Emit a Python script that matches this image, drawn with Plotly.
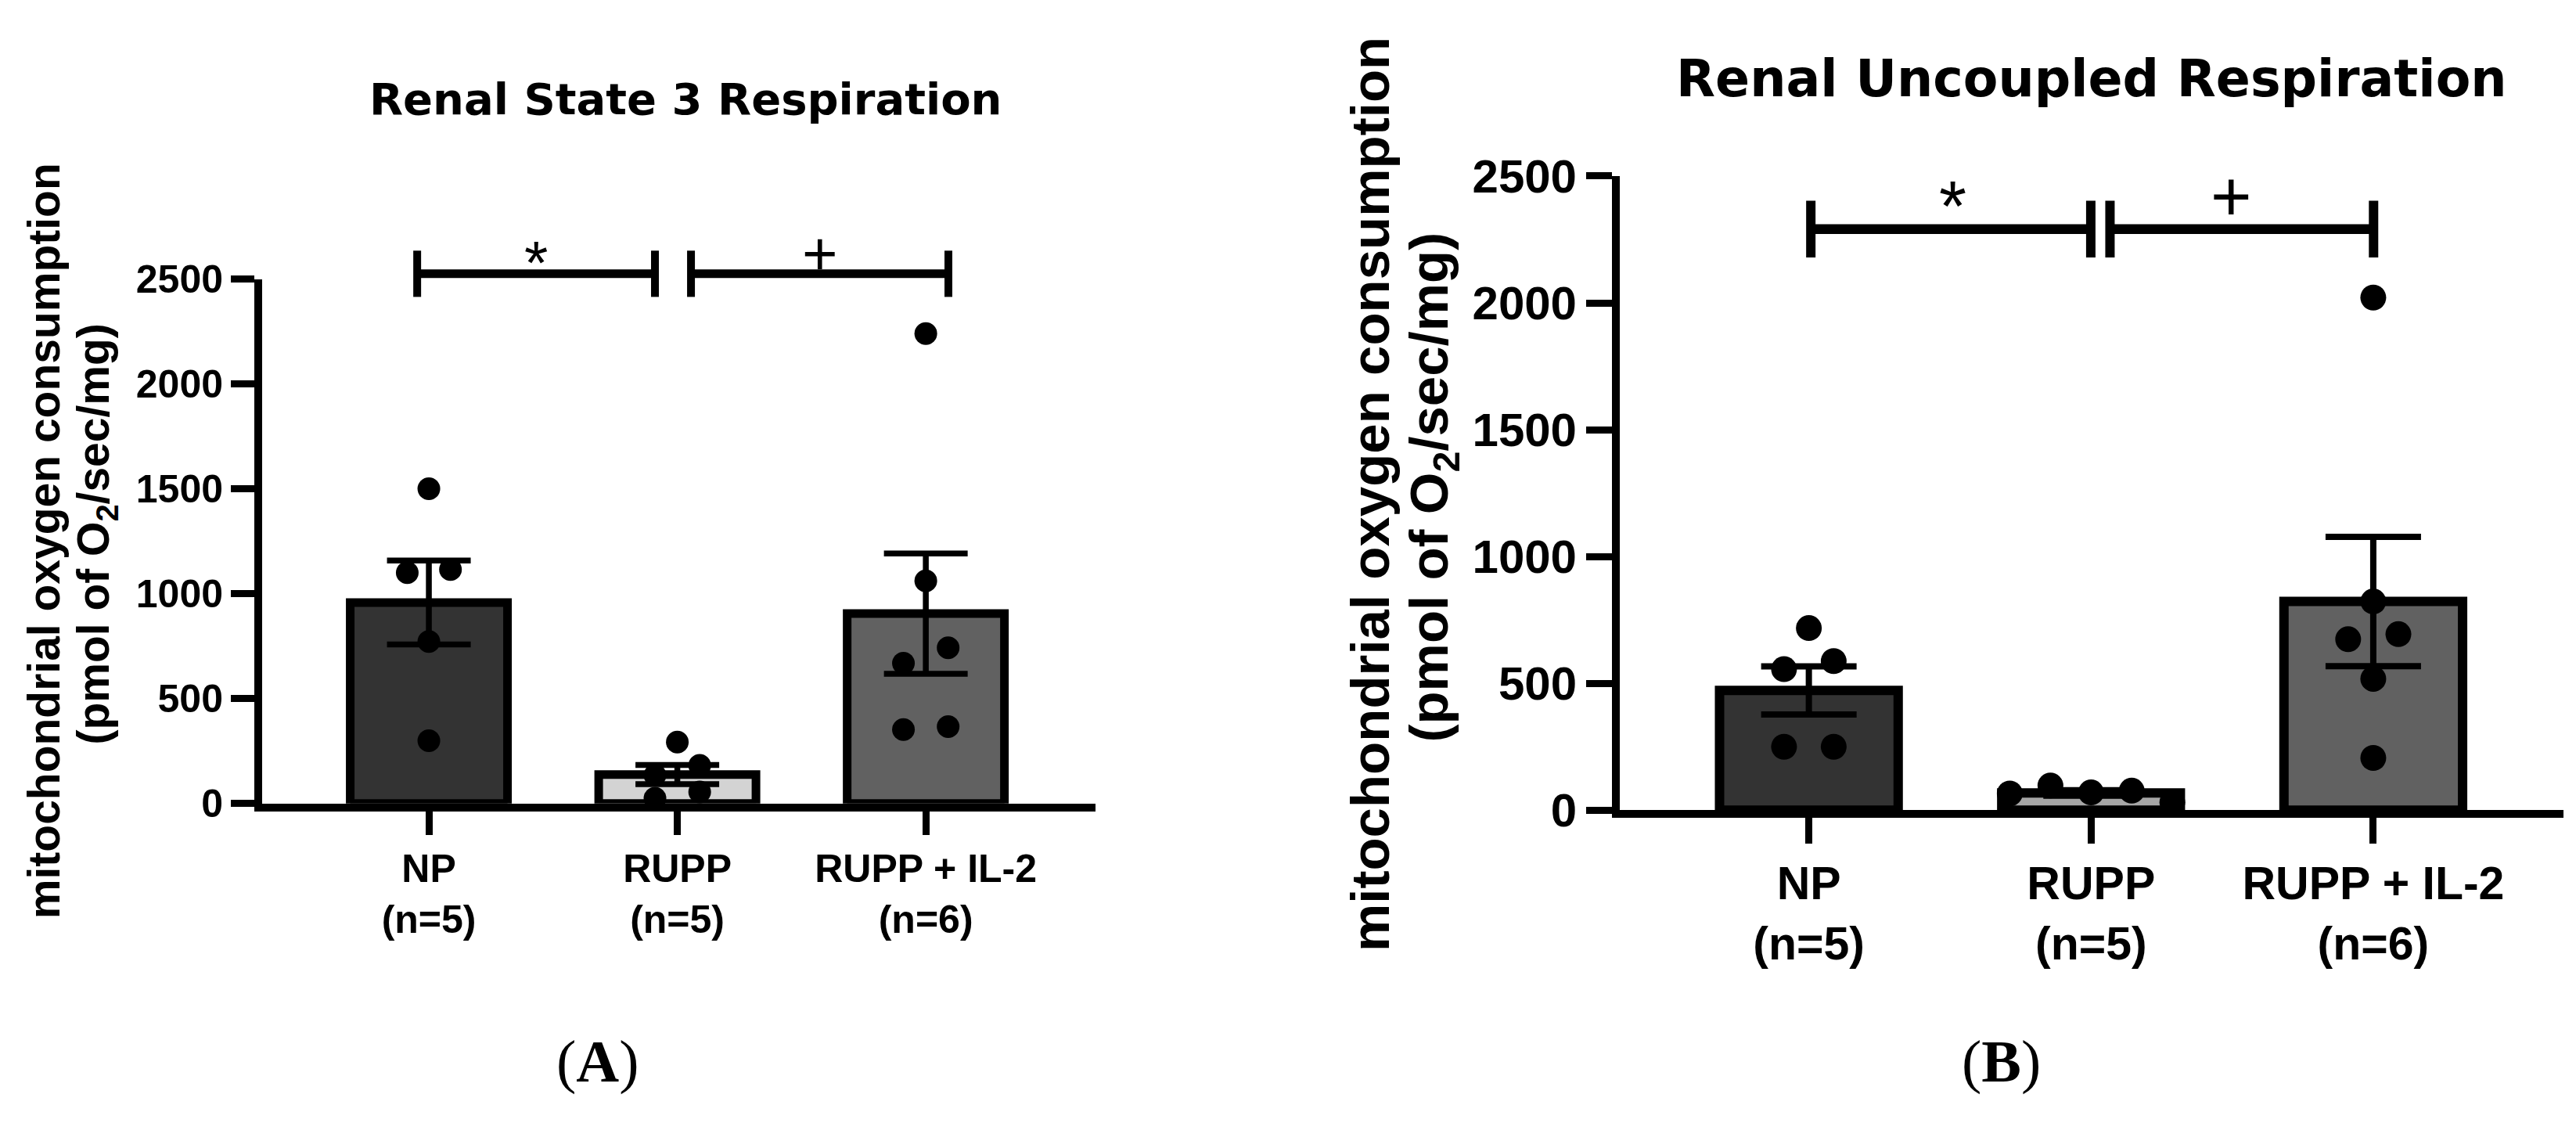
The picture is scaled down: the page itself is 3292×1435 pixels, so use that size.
import plotly.graph_objects as go

W, H = 3292, 1435

# ---------------- data ----------------
GROUPS = ["NP", "RUPP", "RUPP + IL-2"]
GROUP_N = ["(n=5)", "(n=5)", "(n=6)"]
Y_TICKS = [0, 500, 1000, 1500, 2000, 2500]
Y_MAX = 2500

# Panel A: Renal State 3 Respiration
A_TITLE = "Renal State 3 Respiration"
A_MEAN = [958, 138, 905]
A_SEM = [200, 46, 287]
A_NP = [1500, 1100, 1115, 772, 299]
A_RUPP = [293, 182, 135, 55, 25]
A_IL2 = [2240, 1061, 742, 669, 352, 366]

# Panel B: Renal Uncoupled Respiration
B_TITLE = "Renal Uncoupled Respiration"
B_MEAN = [472, 68, 823]
B_SEM = [95, 11, 255]
B_NP = [718, 556, 588, 250, 250]
B_RUPP = [66, 97, 70, 77, 31]
B_IL2 = [2021, 823, 674, 694, 518, 206]

Y_LABEL_1 = "mitochondrial oxygen consumption"
Y_LABEL_2 = "(pmol of O<sub>2</sub>/sec/mg)"

# ---------------- layout / style (not data) ----------------
# horizontal jitter of the dots (in category units)
A_JIT = [[0, -0.087, 0.087, 0, 0],
         [0, 0.09, -0.09, 0.09, -0.09],
         [0, 0, 0.09, -0.09, -0.09, 0.09]]
B_JIT = [[0, -0.088, 0.088, -0.088, 0.088],
         [-0.288, -0.144, 0, 0.144, 0.288],
         [0, 0, -0.089, 0.089, 0, 0]]

PANELS = [
    dict(key="", title=A_TITLE, mean=A_MEAN, sem=A_SEM, pts=[A_NP, A_RUPP, A_IL2], jit=A_JIT,
         left=327, right=1392, top=331, bottom=1034, xr=[-0.671, 2.683],
         colors=["#333333", "#d3d3d3", "#616161"],
         bar_lw=11, axis_lw=10, ticklen=30, tickw=9, tickfs=50, catfs=50,
         msize=29, err_th=7.5, err_w=53.5,
         title_fs=56, title_x=868, title_y=90,
         ylab_fs=57, ylab1=(48, 682), ylab2=(115, 673),
         brackets=[(-0.047, 0.910, 2525), (1.055, 2.091, 2525)], br_lw=11, cap_lw=10, cap_half=31,
         marks=[("*", 0.431, 32, True), ("+", 1.575, 27, False)], mark_fs=78,
         letter="A", letter_x=756, letter_y=1380),
    dict(key="2", title=B_TITLE, mean=B_MEAN, sem=B_SEM, pts=[B_NP, B_RUPP, B_IL2], jit=B_JIT,
         left=2062, right=3268, top=193, bottom=1043, xr=[-0.670, 2.674],
         colors=["#333333", "#a6a6a6", "#616161"],
         bar_lw=12, axis_lw=10, ticklen=33, tickw=9, tickfs=60, catfs=59,
         msize=33, err_th=8, err_w=61,
         title_fs=65, title_x=2665, title_y=62,
         ylab_fs=69, ylab1=(1743, 620), ylab2=(1823, 610),
         brackets=[(0.007, 0.999, 2291), (1.067, 2.001, 2291)], br_lw=12.5, cap_lw=12, cap_half=38,
         marks=[("*", 0.511, 51, True), ("+", 1.498, 44, False)], mark_fs=90,
         letter="B", letter_x=2549, letter_y=1380),
]

SANS = "Liberation Sans, Arial, sans-serif"
TITLE_FONT = "DejaVu Sans, Liberation Sans, sans-serif"

fig = go.Figure()
shapes = []
annotations = []


def px2paper_x(px):
    return px / W


def px2paper_y(py):
    return 1 - py / H


for p in PANELS:
    xa = "x" + p["key"]
    ya = "y" + p["key"]
    r0, r1 = p["xr"]

    def data_px_x(xv, p=p, r0=r0, r1=r1):
        return p["left"] + (xv - r0) / (r1 - r0) * (p["right"] - p["left"])

    def data_px_y(yv, p=p):
        return p["bottom"] - yv / Y_MAX * (p["bottom"] - p["top"])

    # bars (group means)
    fig.add_trace(go.Bar(
        x=list(range(len(GROUPS))), y=p["mean"], width=0.633,
        marker=dict(color=p["colors"], line=dict(color="black", width=p["bar_lw"])),
        xaxis=xa, yaxis=ya, showlegend=False, hoverinfo="skip"))
    # error bars (SEM)
    fig.add_trace(go.Scatter(
        x=list(range(len(GROUPS))), y=p["mean"], mode="markers",
        marker=dict(size=2, color="rgba(0,0,0,0)"),
        error_y=dict(type="data", array=p["sem"], visible=True, color="black",
                     thickness=p["err_th"], width=p["err_w"]),
        xaxis=xa, yaxis=ya, showlegend=False, hoverinfo="skip", cliponaxis=False))
    # individual animals
    for gi, (vals, jit) in enumerate(zip(p["pts"], p["jit"])):
        fig.add_trace(go.Scatter(
            x=[gi + j for j in jit], y=vals, mode="markers",
            marker=dict(size=p["msize"], color="black", line=dict(width=0)),
            xaxis=xa, yaxis=ya, showlegend=False, cliponaxis=False))

    # axes
    fig.update_layout(**{
        ("xaxis" + p["key"]): dict(
            domain=[p["left"] / W, p["right"] / W], range=p["xr"], anchor=ya,
            tickmode="array", tickvals=list(range(len(GROUPS))),
            ticktext=[f"{g}<br>{n}" for g, n in zip(GROUPS, GROUP_N)],
            ticks="outside", ticklen=p["ticklen"], tickwidth=p["tickw"], tickcolor="black",
            showline=True, linewidth=p["axis_lw"], linecolor="black",
            showgrid=False, zeroline=False,
            tickfont=dict(family=SANS, size=p["catfs"], color="black", weight="bold")),
        ("yaxis" + p["key"]): dict(
            domain=[1 - p["bottom"] / H, 1 - p["top"] / H], range=[0, Y_MAX], anchor=xa,
            tickmode="array", tickvals=Y_TICKS, ticktext=[str(t) for t in Y_TICKS],
            ticks="outside", ticklen=p["ticklen"], tickwidth=p["tickw"], tickcolor="black",
            showline=True, linewidth=p["axis_lw"], linecolor="black",
            showgrid=False, zeroline=False,
            tickfont=dict(family=SANS, size=p["tickfs"], color="black", weight="bold")),
    })

    # significance brackets
    for (xs, xe, yv) in p["brackets"]:
        x0, x1, yp = data_px_x(xs), data_px_x(xe), data_px_y(yv)
        shapes.append(dict(type="line", xref="paper", yref="paper",
                           x0=px2paper_x(x0), x1=px2paper_x(x1), y0=px2paper_y(yp), y1=px2paper_y(yp),
                           line=dict(color="black", width=p["br_lw"])))
        for xc in (x0, x1):
            shapes.append(dict(type="line", xref="paper", yref="paper",
                               x0=px2paper_x(xc), x1=px2paper_x(xc),
                               y0=px2paper_y(yp - p["cap_half"]), y1=px2paper_y(yp + p["cap_half"]),
                               line=dict(color="black", width=p["cap_lw"])))
    yline = data_px_y(p["brackets"][0][2])
    for (txt, xv, above, is_star) in p["marks"]:
        yc = yline - above + (0.23 * p["mark_fs"] if is_star else 0)
        annotations.append(dict(text=txt, xref="paper", yref="paper", showarrow=False,
                                x=px2paper_x(data_px_x(xv)), y=px2paper_y(yc),
                                xanchor="center", yanchor="middle",
                                font=dict(family=SANS, size=p["mark_fs"], color="black")))

    # title
    annotations.append(dict(text=p["title"], xref="paper", yref="paper", showarrow=False,
                            x=px2paper_x(p["title_x"]), y=px2paper_y(p["title_y"]),
                            xanchor="center", yanchor="middle",
                            font=dict(family=TITLE_FONT, size=p["title_fs"], color="black", weight="bold")))
    # y-axis title (two lines)
    for txt, (cx, cy) in ((Y_LABEL_1, p["ylab1"]), (Y_LABEL_2, p["ylab2"])):
        annotations.append(dict(text=txt, xref="paper", yref="paper", showarrow=False,
                                x=px2paper_x(cx), y=px2paper_y(cy), textangle=-90,
                                xanchor="center", yanchor="middle",
                                font=dict(family=SANS, size=p["ylab_fs"], color="black", weight="bold")))
    # panel letter
    annotations.append(dict(text=f"(<b>{p['letter']}</b>)", xref="paper", yref="paper", showarrow=False,
                            x=px2paper_x(p["letter_x"]), y=px2paper_y(p["letter_y"]),
                            xanchor="center", yanchor="middle",
                            font=dict(family="Liberation Serif, Times New Roman, serif", size=76, color="black")))

fig.update_layout(
    width=W, height=H, margin=dict(l=0, r=0, t=0, b=0),
    paper_bgcolor="white", plot_bgcolor="white",
    barmode="overlay", showlegend=False,
    shapes=shapes, annotations=annotations,
)

fig.write_html("out.html")
